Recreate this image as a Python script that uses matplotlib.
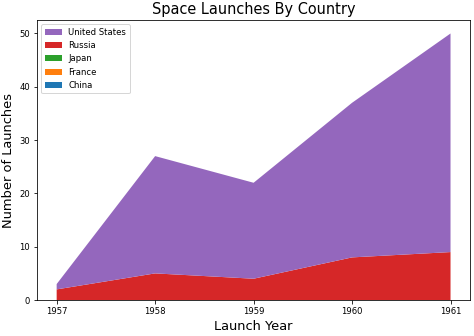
import matplotlib
matplotlib.use("Agg")
import matplotlib.pyplot as plt

years = [1957, 1958, 1959, 1960, 1961]
china = [0, 0, 0, 0, 0]
france = [0, 0, 0, 0, 0]
japan = [0, 0, 0, 0, 0]
russia = [2, 5, 4, 8, 9]
united_states = [1, 22, 18, 29, 41]

labels = ["China", "France", "Japan", "Russia", "United States"]
colors = ["#1f77b4", "#ff7f0e", "#2ca02c", "#d62728", "#9467bd"]

fig = plt.figure(figsize=(474/72, 336/72), dpi=72)
ax = fig.add_axes([0.078, 0.107, 0.914, 0.833])
ax.stackplot(years, china, france, japan, russia, united_states, labels=labels, colors=colors)
ax.set_xlim(1956.8, 1961.2)
ax.set_ylim(0, 52.5)
ax.set_xticks(years)
ax.set_xticklabels([str(y) for y in years])
ax.tick_params(labelsize=8.5)
ax.set_title("Space Launches By Country", fontsize=14.5)
ax.set_xlabel("Launch Year", fontsize=13)
ax.set_ylabel("Number of Launches", fontsize=13)
h, l = ax.get_legend_handles_labels()
ax.legend(h[::-1], l[::-1], loc="upper left", fontsize=8.5)
fig.savefig("out.png", dpi=72)
